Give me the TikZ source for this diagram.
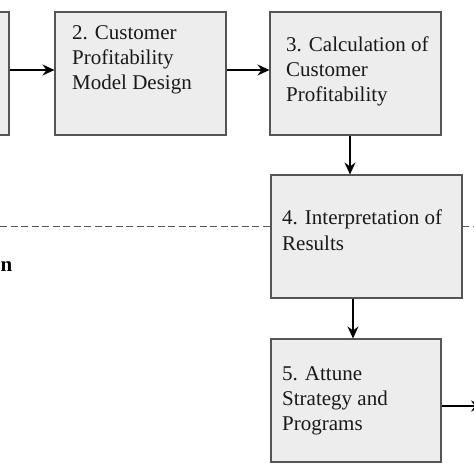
\documentclass[tikz,border=0pt]{standalone}
\usepackage{fontspec}
\setmainfont{Liberation Serif}
\usetikzlibrary{arrows.meta}
\definecolor{boxfill}{HTML}{ECEDEC}
\definecolor{boxline}{HTML}{555555}
\definecolor{dashline}{HTML}{555555}
\tikzset{
  stepbox/.style={draw=boxline, line width=1.1bp, fill=boxfill, inner sep=0pt, minimum height=123bp},
  lbl/.style={font=\fontsize{21bp}{25bp}\selectfont, align=left, inner sep=0pt, anchor=base west, text=black!90},
  conn/.style={line width=1.4bp, -{Stealth[length=12bp,width=11bp,inset=4bp]}},
  sepline/.style={draw=dashline, line width=0.8bp, dash pattern=on 7bp off 3.5bp}
}
\begin{document}
\begin{tikzpicture}[x=1bp,y=-1bp]
\useasboundingbox (0,0) rectangle (474,474);
% dashed separator
\coordinate (dl) at (0,226);
\coordinate (dr) at (474,226);
\draw[sepline] (dl) -- (dr);
% boxes
\node[stepbox, minimum width=171bp] (b1) at (-76.5,73.5) {};
\node[stepbox, minimum width=171bp] (b2) at (140.5,73.5) {};
\node[stepbox, minimum width=171bp] (b3) at (355.5,73.5) {};
\node[stepbox, minimum width=191bp] (b4) at (366.5,236.5) {};
\node[stepbox, minimum width=170bp] (b5) at (356,400.5) {};
% texts (anchor base = baseline of last line)
\node[lbl] (t2) at (72,90) {2. Customer\\Profitability\\Model Design};
\node[lbl] (t3) at (286,102) {3. Calculation of\\Customer\\Profitability};
\node[lbl] (t4) at (282,250) {4. Interpretation of\\Results};
\node[lbl] (t5) at (282,430) {5. Attune\\Strategy and\\Programs};
\node[font=\fontsize{21bp}{25bp}\selectfont\bfseries, inner sep=0pt, anchor=base east] (tn) at (12.5,271) {n};
% connectors
\draw[conn] (b1.east |- 0,70) -- (b2.west |- 0,70);
\draw[conn] (b2.east |- 0,70) -- (b3.west |- 0,70);
\draw[conn] (350,0 |- b3.south) -- (350,0 |- b4.north);
\draw[conn] (353,0 |- b4.south) -- (353,0 |- b5.north);
\coordinate (out) at (483,406);
\draw[conn] (b5.east |- out) -- (out);
\end{tikzpicture}
\end{document}
